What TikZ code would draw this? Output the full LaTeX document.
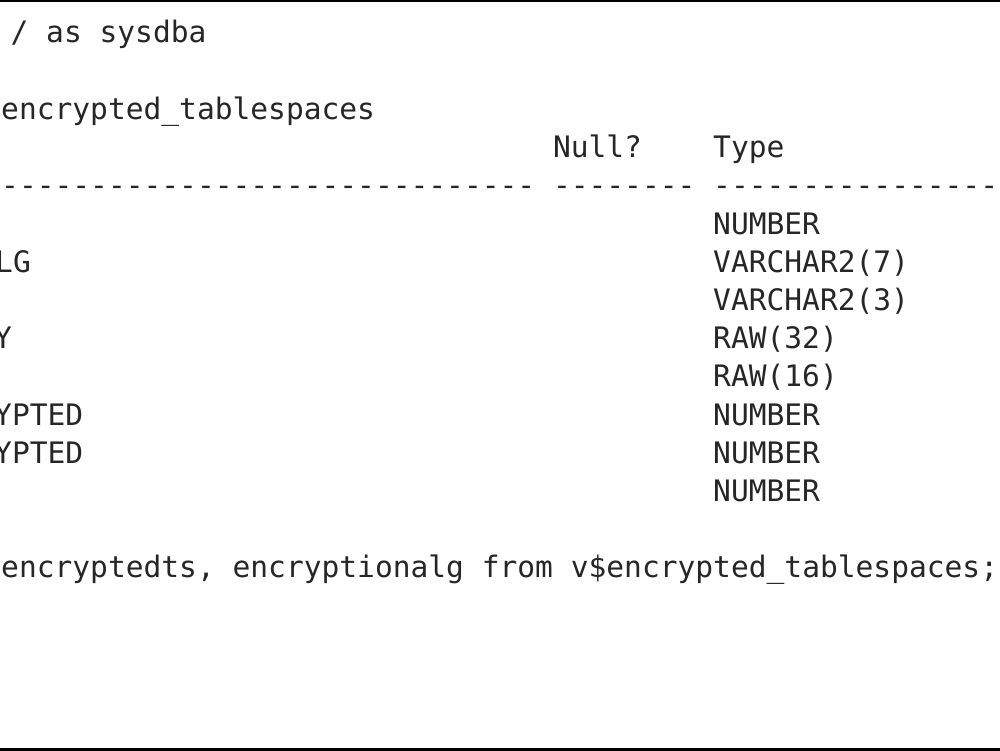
\documentclass[tikz,border=0pt]{standalone}
\usepackage{fontspec}
\newfontfamily\termfont{DejaVu Sans Mono}
\begin{document}
\begin{tikzpicture}[x=1pt,y=-1pt]
    \tikzset{
      term/.style={anchor=base west, inner sep=0pt, text=black!85,
        font=\termfont\fontsize{29.57}{38.2}\selectfont}, % terminal text
      frame/.style={line width=3pt, black}, % window edges
    }
    \useasboundingbox (0,0) rectangle (1000,751);
    \begin{scope}
    \clip (0,0) rectangle (1000,751);
    \node[term] (login) at (10.4,43) {/ as sysdba};
    \node[term] (desc) at (1,119.4) {encrypted\_tablespaces};
    \node[term] (hnull) at (552.8,157.6) {Null?};
    \node[term] (htype) at (713,157.6) {Type};
    \node[term] (dash) at (1,195.8) {------------------------------ -------- -----------------};
    \node[term] (c1) at (713,234) {NUMBER};
    \node[term] (c2) at (-5,272.2) {LG};
    \node[term] (t2) at (713,272.2) {VARCHAR2(7)};
    \node[term] (t3) at (713,310.4) {VARCHAR2(3)};
    \node[term] (c4) at (-6,348.6) {Y};
    \node[term] (t4) at (713,348.6) {RAW(32)};
    \node[term] (t5) at (713,386.8) {RAW(16)};
    \node[term] (c6) at (-6,425) {YPTED};
    \node[term] (t6) at (713,425) {NUMBER};
    \node[term] (c7) at (-6,463.2) {YPTED};
    \node[term] (t7) at (713,463.2) {NUMBER};
    \node[term] (t8) at (713,501.4) {NUMBER};
    \node[term] (query) at (1,577.8) {encryptedts, encryptionalg from v\$encrypted\_tablespaces;};
    \end{scope}
    \draw[frame] (0,0.5) -- (1000,0.5);
    \draw[frame] (0,749.5) -- (1000,749.5);
\end{tikzpicture}
\end{document}
